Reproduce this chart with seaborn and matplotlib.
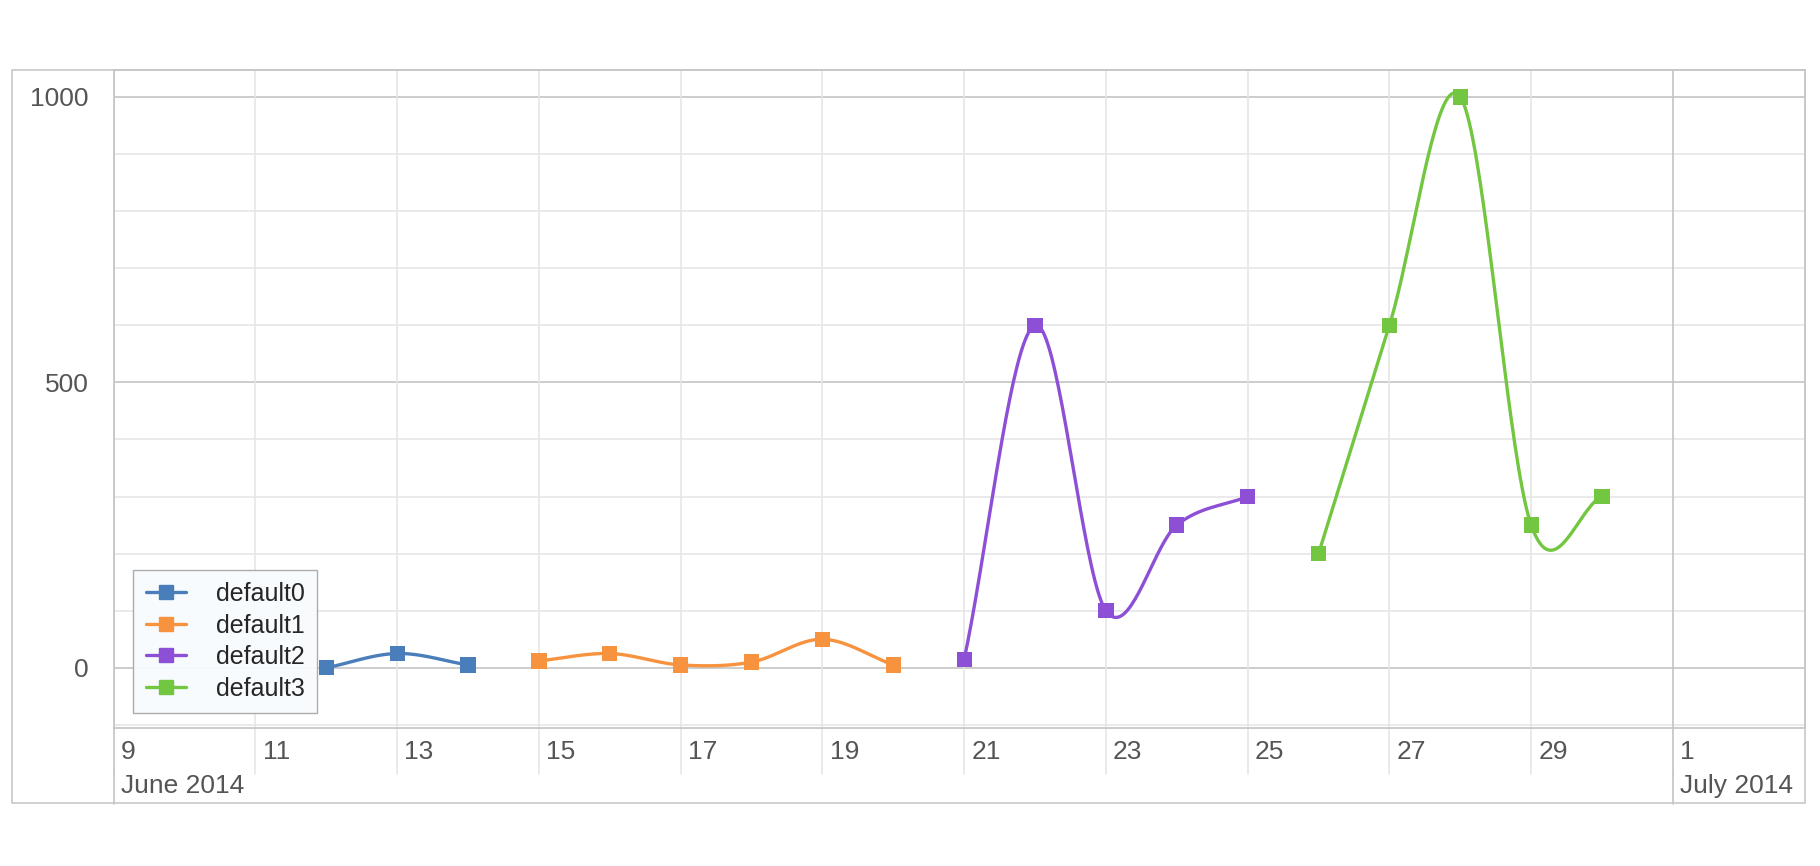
import numpy as np
import pandas as pd
import matplotlib
matplotlib.use("Agg")
import matplotlib.pyplot as plt
from matplotlib.lines import Line2D
from matplotlib.patches import Rectangle
import seaborn as sns

# day numbers counted from June (July 1 = 31)
days0 = [12, 13, 14]
vals0 = [0, 25, 5]
days1 = [15, 16, 17, 18, 19, 20]
vals1 = [12, 25, 5, 10, 50, 5]
days2 = [21, 22, 23, 24, 25]
vals2 = [15, 600, 100, 250, 300]
days3 = [26, 27, 28, 29, 30]
vals3 = [200, 600, 1000, 250, 300]
names = ["default0", "default1", "default2", "default3"]
colors = ["#4a7ebb", "#f7923f", "#8c4fd6", "#72c640"]

x_ticks = [9, 11, 13, 15, 17, 19, 21, 23, 25, 27, 29, 31]
x_labels = ["9", "11", "13", "15", "17", "19", "21", "23", "25", "27", "29", "1"]
y_ticks = [0, 500, 1000]


def smooth(xs, ys, n=40):
    # Catmull-Rom curve through the points (drawing only)
    xs = np.asarray(xs, float); ys = np.asarray(ys, float)
    px = np.concatenate([[2 * xs[0] - xs[1]], xs, [2 * xs[-1] - xs[-2]]])
    py = np.concatenate([[2 * ys[0] - ys[1]], ys, [2 * ys[-1] - ys[-2]]])
    ox, oy = [], []
    t = np.linspace(0, 1, n)
    for i in range(1, len(px) - 2):
        for p, o in ((px, ox), (py, oy)):
            a, b, c, d = p[i - 1], p[i], p[i + 1], p[i + 2]
            o.extend(0.5 * (2 * b + (-a + c) * t + (2 * a - 5 * b + 4 * c - d) * t ** 2
                            + (-a + 3 * b - 3 * c + d) * t ** 3))
    return np.array(ox), np.array(oy)


sns.set_theme(style="white")
plt.rcParams["font.family"] = ["Liberation Sans", "DejaVu Sans"]

fig = plt.figure(figsize=(18.2, 8.66), dpi=100)
ax = fig.add_axes([0.0625, 0.159, 0.9295, 0.760])

# outer frame
fig.patches.append(Rectangle((0.0064, 0.073), 0.9856, 0.846, transform=fig.transFigure,
                             fill=False, edgecolor="#c8c8c8", lw=1.2))

for y in range(-100, 1001, 100):
    ax.axhline(y, color="#c4c4c4" if y % 500 == 0 else "#e6e6e6", lw=1.2, zorder=0)
for x in range(9, 33, 2):
    ax.axvline(x, color="#c4c4c4" if x in (9, 31) else "#e6e6e6", lw=1.2, zorder=0)

rows = []
for name, d, v in zip(names, [days0, days1, days2, days3], [vals0, vals1, vals2, vals3]):
    sx, sy = smooth(d, v)
    rows.append(pd.DataFrame({"day": sx, "value": sy, "series": name}))
curves = pd.concat(rows)
points = pd.concat([pd.DataFrame({"day": d, "value": v, "series": n})
                    for n, d, v in zip(names, [days0, days1, days2, days3], [vals0, vals1, vals2, vals3])])

sns.lineplot(data=curves, x="day", y="value", hue="series", palette=colors, sort=False,
             units="series", estimator=None, lw=2.4, legend=False, ax=ax)
sns.scatterplot(data=points, x="day", y="value", hue="series", palette=colors, marker="s",
                s=120, edgecolor="none", legend=False, ax=ax, zorder=5)

ax.set_xlim(9, 32.87)
ax.set_ylim(-106, 1047)
ax.set_xlabel("")
ax.set_ylabel("")
ax.set_yticks(y_ticks)
ax.set_yticklabels([str(t) for t in y_ticks], color="#555555", fontsize=19)
ax.tick_params(axis="y", length=14, color="#c4c4c4", pad=4)
ax.set_xticks([])
for s in ax.spines.values():
    s.set_color("#c4c4c4")
    s.set_linewidth(1.2)

# x tick labels below the axis, left aligned to gridlines
for x, lab in zip(x_ticks, x_labels):
    ax.plot([x, x], [0, -0.07], transform=ax.get_xaxis_transform(), clip_on=False,
            color="#c4c4c4" if x in (9, 31) else "#e6e6e6", lw=1.2)
    ax.text(x + 0.1, -0.018, lab, transform=ax.get_xaxis_transform(), ha="left", va="top",
            fontsize=19, color="#555555")
for x in (9, 31):
    ax.plot([x, x], [-0.07, -0.115], transform=ax.get_xaxis_transform(), clip_on=False,
            color="#c4c4c4", lw=1.2)
ax.text(9.1, -0.069, "June 2014", transform=ax.get_xaxis_transform(), ha="left", va="top",
        fontsize=19, color="#555555")
ax.text(31.1, -0.069, "July 2014", transform=ax.get_xaxis_transform(), ha="left", va="top",
        fontsize=19, color="#555555")

handles = [Line2D([0], [0], color=c, marker="s", markersize=10, lw=2.4) for c in colors]
leg = ax.legend(handles, names, loc="lower left", bbox_to_anchor=(0.004, 0.004), fontsize=18,
                frameon=True, fancybox=False, handlelength=1.6, handletextpad=1.2,
                labelspacing=0.3, borderpad=0.5)
leg.get_frame().set_edgecolor("#a8a8a8")
leg.get_frame().set_facecolor("#f8fbfd")
leg.get_frame().set_alpha(0.95)

fig.savefig("out.png", dpi=100)
